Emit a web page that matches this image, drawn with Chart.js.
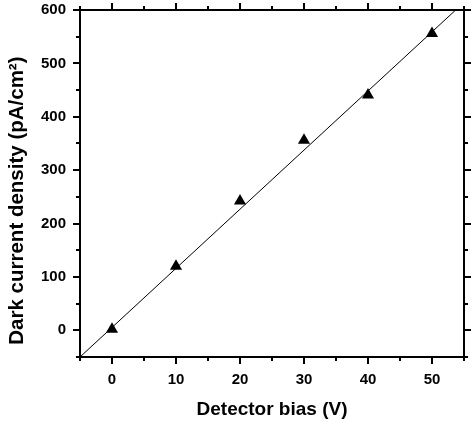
<!DOCTYPE html>
<html>
<head>
<meta charset="utf-8">
<script src="https://cdn.jsdelivr.net/npm/chart.js@4/dist/chart.umd.min.js"></script>
<style>
html,body{margin:0;padding:0;background:#fff;}
#wrap{width:474px;height:421px;position:relative;}
</style>
</head>
<body>
<div id="wrap"><canvas id="c"></canvas></div>
<script>
// Measured data
const biasV = [0, 10, 20, 30, 40, 50];
const darkCurrent = [2, 120, 242, 356, 441, 556];
// Linear fit line endpoints (as drawn in the figure)
const fitBias = [-5, 53.7];
const fitCurrent = [-50, 600];
// Axis ticks
const xMajorTicks = [0, 10, 20, 30, 40, 50];
const xMinorTicks = [-5, 5, 15, 25, 35, 45, 55];
const yMajorTicks = [0, 100, 200, 300, 400, 500, 600];
const yMinorTicks = [-50, 50, 150, 250, 350, 450, 550];
const xRange = [-5, 55];
const yRange = [-50, 600];

const FONT = "'Liberation Sans', Arial, Helvetica, sans-serif";

const framePlugin = {
  id: 'frame',
  afterDatasetsDraw(chart) {
    const ctx = chart.ctx;
    const xs = chart.scales.x, ys = chart.scales.y;
    const ca = chart.chartArea;
    ctx.save();
    ctx.strokeStyle = '#000';
    ctx.lineWidth = 2;
    ctx.lineCap = 'butt';
    ctx.strokeRect(ca.left, ca.top, ca.right - ca.left, ca.bottom - ca.top);
    const MAJ = 7, MIN = 4;
    ctx.beginPath();
    const xt = (vals, len) => vals.forEach(v => {
      const px = Math.round(xs.getPixelForValue(v));
      ctx.moveTo(px, ca.bottom); ctx.lineTo(px, ca.bottom + len);
      ctx.moveTo(px, ca.top); ctx.lineTo(px, ca.top - len);
    });
    const yt = (vals, len) => vals.forEach(v => {
      const py = Math.round(ys.getPixelForValue(v));
      ctx.moveTo(ca.left, py); ctx.lineTo(ca.left - len, py);
      ctx.moveTo(ca.right, py); ctx.lineTo(ca.right + len, py);
    });
    xt(xMajorTicks, MAJ); xt(xMinorTicks, MIN);
    yt(yMajorTicks, MAJ); yt(yMinorTicks, MIN);
    ctx.stroke();
    ctx.restore();
  }
};

new Chart(document.getElementById('c'), {
  type: 'scatter',
  data: {
    datasets: [
      {
        type: 'line',
        data: fitBias.map((x, i) => ({x: x, y: fitCurrent[i]})),
        borderColor: '#000',
        borderWidth: 1,
        pointRadius: 0,
        fill: false,
        tension: 0,
        clip: false
      },
      {
        data: biasV.map((x, i) => ({x: x, y: darkCurrent[i]})),
        pointStyle: 'triangle',
        pointRadius: 7,
        pointBackgroundColor: '#000',
        pointBorderColor: '#000',
        pointBorderWidth: 0
      }
    ]
  },
  options: {
    responsive: true,
    maintainAspectRatio: false,
    animation: false,
    events: [],
    layout: {padding: {left: 0, right: 10, top: 10, bottom: 0}},
    plugins: {legend: {display: false}, tooltip: {enabled: false}},
    scales: {
      x: {
        type: 'linear',
        min: xRange[0], max: xRange[1],
        afterBuildTicks: s => { s.ticks = xMajorTicks.map(v => ({value: v})); },
        afterFit: s => { s.height = 64; s.paddingLeft = 0; s.paddingRight = 0; },
        grid: {display: false, drawTicks: false},
        border: {display: false},
        ticks: {color: '#000', padding: 14, maxRotation: 0, autoSkip: false,
                font: {family: FONT, size: 15, weight: 'bold'}},
        title: {display: true, text: 'Detector bias (V)', color: '#000',
                font: {family: FONT, size: 19, weight: 'bold'}, padding: {top: 6, bottom: 0}}
      },
      y: {
        type: 'linear',
        min: yRange[0], max: yRange[1],
        afterBuildTicks: s => { s.ticks = yMajorTicks.map(v => ({value: v})); },
        afterFit: s => { s.width = 80; s.paddingTop = 0; s.paddingBottom = 0; },
        grid: {display: false, drawTicks: false},
        border: {display: false},
        ticks: {color: '#000', padding: 14, autoSkip: false,
                font: {family: FONT, size: 15, weight: 'bold'}},
        title: {display: true, text: 'Dark current density (pA/cm\u00B2)\u00A0\u00A0\u00A0\u00A0\u00A0\u00A0', color: '#000',
                font: {family: FONT, size: 20.5, weight: 'bold'}, padding: {top: 5, bottom: 0}}
      }
    }
  },
  plugins: [framePlugin]
});
</script>
</body>
</html>
